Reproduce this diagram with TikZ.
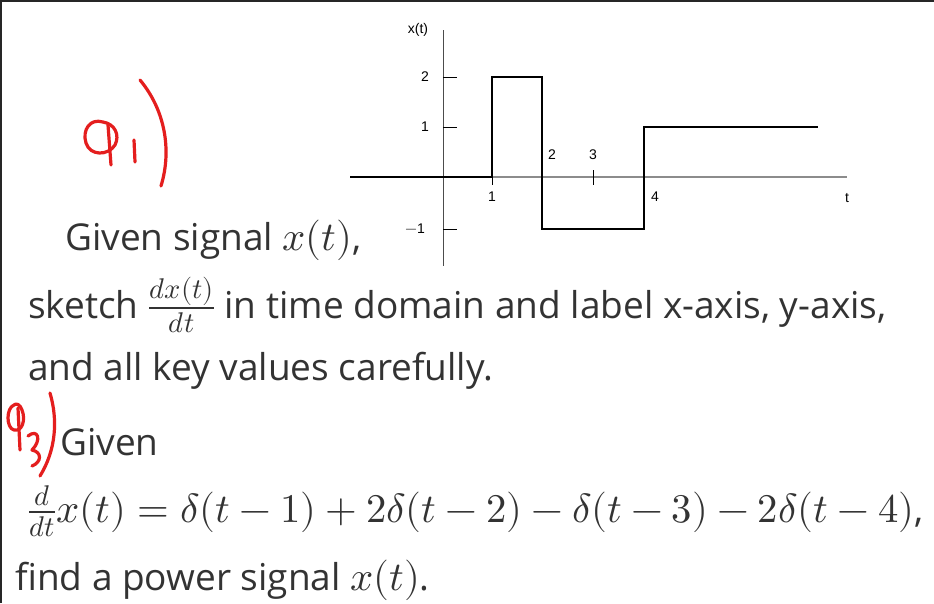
\documentclass[tikz,border=0pt]{standalone}
\usepackage{fontspec}
\usepackage{unicode-math}
\setmathfont[Scale=1.1]{Latin Modern Math}
\setmainfont{Open Sans}
\setsansfont{Liberation Sans}
\definecolor{txt}{HTML}{333333}
\definecolor{pen}{HTML}{E41E1E}
\begin{document}
\begin{tikzpicture}[x=1pt,y=-1pt,
  body/.style={anchor=base west,inner sep=0,text=txt,font=\fontsize{37}{42}\selectfont},
  lab/.style={font=\sffamily\fontsize{14}{16}\selectfont,inner sep=0},
  sig/.style={line width=2.6pt,line join=miter},
  ink/.style={pen,line width=3.2pt,line cap=round,line join=round}]
\useasboundingbox (0,0) rectangle (934,603);
\fill[white] (0,0) rectangle (934,603);
\draw[line width=2pt,black!85] (1,603) -- (1,1) -- (934,1);
% axes
\draw[black!45,line width=1.5pt] (350,177) -- (847,177);
\draw[black!70,line width=1pt] (443,30) -- (443,266);
\foreach \y in {77,127,229} \draw[line width=1pt] (443,\y) -- (457,\y);
\draw[line width=1pt] (593,170) -- (593,185);
\draw[line width=1pt] (492,177) -- (492,185);
\node[lab] (xl) at (418,30) {x(t)};
\node[lab] (tl) at (847,198) {t};
\node[lab] (y2) at (425,77) {2};
\node[lab] (y1) at (425,127) {1};
\node[lab] (ym) at (415,229) {$-$1};
\node[lab] (t1) at (492,197) {1};
\node[lab] (t2) at (552,155) {2};
\node[lab] (t3) at (593,155) {3};
\node[lab] (t4) at (655,197) {4};
\draw[sig] (350,177) -- (492,177) -- (492,77) -- (542,77) -- (542,229) -- (644,229) -- (644,127) -- (818,127);
% texts
\node[body] (l1) at (65,250) {Given signal $x(t)$,};
\node[body] (l2) at (28,318) {sketch $\frac{dx(t)}{dt}$ in time domain and label x-axis, y-axis,};
\node[body] (l3) at (28,380) {and all key values carefully.};
\node[body] (l4) at (60,455) {Given};
\node[body] (l5) at (28,522) {$\frac{d}{dt}x(t)=\delta(t-1)+2\delta(t-2)-\delta(t-3)-2\delta(t-4)$,};
\node[body] (l6) at (15,590) {find a power signal $x(t)$.};
% handwriting
\draw[ink] (140,80) .. controls (165,110) and (172,150) .. (161,186);
\draw[ink] (103,122) .. controls (90,118) and (82,130) .. (86,143) .. controls (90,156) and (108,156) .. (115,145) .. controls (120,135) and (115,124) .. (103,122);
\draw[ink] (108,125) -- (111,165);
\draw[ink] (134,140) -- (135,162);
\draw[ink] (50,393) .. controls (58,420) and (56,450) .. (40,476);
\draw[ink] (14,405) .. controls (6,408) and (6,428) .. (14,430) .. controls (22,432) and (26,420) .. (22,410) .. controls (20,404) and (16,403) .. (14,405);
\draw[ink] (18,408) -- (20,450);
\draw[ink] (28,436) .. controls (38,428) and (42,440) .. (32,450) .. controls (42,452) and (42,462) .. (32,466);
\end{tikzpicture}
\end{document}
